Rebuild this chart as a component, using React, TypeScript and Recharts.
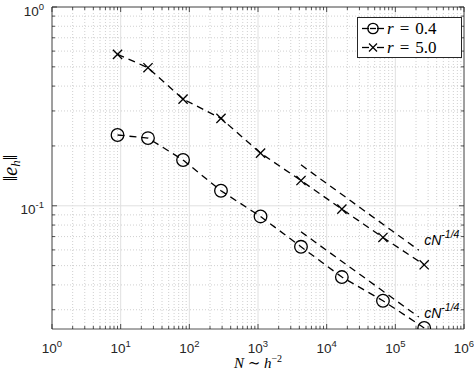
import React from 'react';
import { ComposedChart, Line, XAxis, YAxis, CartesianGrid, Legend, ReferenceDot } from 'recharts';

// ---- data ----
const N = [9, 25, 81, 289, 1089, 4225, 16641, 66049, 263169];
const errR04 = [0.227, 0.219, 0.17, 0.119, 0.0884, 0.0622, 0.0438, 0.0333, 0.0243];
const errR50 = [0.578, 0.495, 0.344, 0.2753, 0.184, 0.134, 0.0962, 0.0693, 0.0505];
const refN = [4225, 220000];
const refUpper = [0.1607, 0.0598];
const refLower = [0.074, 0.02756];
const labelN = 263169;
const labelUpperY = 0.0637;
const labelLowerY = 0.02736;
const seriesNames = ['r = 0.4', 'r = 5.0'];

const xMajor = [1, 10, 100, 1000, 10000, 100000, 1000000];
const yMajor = [0.1, 1];
const minorMult = [2, 3, 4, 5, 6, 7, 8, 9];
const xMinor = [1, 10, 100, 1000, 10000, 100000].flatMap((d) => minorMult.map((m) => m * d));
const yMinor = [3, 4, 5, 6, 7, 8, 9].map((m) => m / 100).concat(minorMult.map((m) => m / 10));
const xTicks = [...xMajor, ...xMinor].sort((a, b) => a - b);
const yTicks = [...yMajor, ...yMinor].sort((a, b) => a - b);

const dataR04 = N.map((n, i) => ({ x: n, y: errR04[i] }));
const dataR50 = N.map((n, i) => ({ x: n, y: errR50[i] }));
const dataRefU = refN.map((n, i) => ({ x: n, y: refUpper[i] }));
const dataRefL = refN.map((n, i) => ({ x: n, y: refLower[i] }));

const AX = '#262626';
const TICK_FONT = '"Liberation Sans", Arial, sans-serif';
const SERIF = '"Liberation Serif", "DejaVu Serif", serif';
const DASH = '7 5';
const LW = 1.3;

const isMajor = (v: number) => Math.abs(Math.log10(v) - Math.round(Math.log10(v))) < 1e-6;
const expOf = (v: number) => Math.round(Math.log10(v));

const BottomTick = (props: any) => {
  const { x, y, payload } = props;
  const v = payload.value;
  const major = isMajor(v);
  return (
    <g>
      <line x1={x} y1={y} x2={x} y2={y - (major ? 5 : 3)} stroke={AX} strokeWidth={0.8} />
      {major && (
        <text x={x} y={y + 24} textAnchor="middle" fontFamily={TICK_FONT} fontSize={13.5} fill={AX}>
          10<tspan dy={-6} fontSize={9.5}>{expOf(v)}</tspan>
        </text>
      )}
    </g>
  );
};

const TopTick = (props: any) => {
  const { x, y, payload } = props;
  const major = isMajor(payload.value);
  return <line x1={x} y1={y} x2={x} y2={y + (major ? 5 : 3)} stroke={AX} strokeWidth={0.8} />;
};

const LeftTick = (props: any) => {
  const { x, y, payload } = props;
  const v = payload.value;
  const major = isMajor(v);
  return (
    <g>
      <line x1={x} y1={y} x2={x + (major ? 5 : 3)} y2={y} stroke={AX} strokeWidth={0.8} />
      {major && (
        <text x={x - 8} y={y + 8.5} textAnchor="end" fontFamily={TICK_FONT} fontSize={13.5} fill={AX}>
          10<tspan dy={-6} fontSize={9.5}>{expOf(v)}</tspan>
        </text>
      )}
    </g>
  );
};

const RightTick = (props: any) => {
  const { x, y, payload } = props;
  const major = isMajor(payload.value);
  return <line x1={x} y1={y} x2={x - (major ? 5 : 3)} y2={y} stroke={AX} strokeWidth={0.8} />;
};

const CircleDot = (props: any) => {
  const { cx, cy, index } = props;
  if (cx == null || cy == null) return <g key={index} />;
  return <circle key={index} cx={cx} cy={cy} r={6.3} fill="none" stroke="#000" strokeWidth={LW} />;
};

const CrossDot = (props: any) => {
  const { cx, cy, index } = props;
  if (cx == null || cy == null) return <g key={index} />;
  const s = 4.6;
  return (
    <g key={index}>
      <line x1={cx - s} y1={cy - s} x2={cx + s} y2={cy + s} stroke="#000" strokeWidth={LW} />
      <line x1={cx - s} y1={cy + s} x2={cx + s} y2={cy - s} stroke="#000" strokeWidth={LW} />
    </g>
  );
};

const XLabel = (props: any) => {
  const vb = props.viewBox || { x: 52, y: 329, width: 412, height: 42 };
  const cx = vb.x + vb.width / 2;
  return (
    <text x={cx} y={vb.y + 39} textAnchor="middle" fontFamily={SERIF} fontSize={15} fill="#000">
      <tspan fontStyle="italic">N</tspan>
      <tspan> ∼ </tspan>
      <tspan fontStyle="italic">h</tspan>
      <tspan dy={-6} fontSize={10}>−2</tspan>
    </text>
  );
};

const YLabel = (props: any) => {
  const vb = props.viewBox || { x: 0, y: 7, width: 52, height: 322 };
  const cx = vb.x + 17;
  const cy = vb.y + vb.height / 2;
  return (
    <text x={cx} y={cy} transform={`rotate(-90 ${cx} ${cy})`} textAnchor="middle" fontFamily={SERIF} fontSize={20} fill="#000">
      <tspan>‖</tspan>
      <tspan fontStyle="italic">e</tspan>
      <tspan dy={3} fontSize={13} fontStyle="italic">h</tspan>
      <tspan dy={-3}>‖</tspan>
    </text>
  );
};

const RateLabel = (props: any) => {
  const vb = props.viewBox || {};
  const x = vb.x ?? 0;
  const y = vb.y ?? 0;
  return (
    <text x={x} y={y} fontFamily={TICK_FONT} fontSize={14} fontStyle="italic" fill="#000">
      cN<tspan dy={-7} fontSize={10.5}>-1/4</tspan>
    </text>
  );
};

const LegendSample = ({ kind }: { kind: 'circle' | 'cross' }) => (
  <svg width={26} height={19} style={{ display: 'block', flex: 'none' }}>
    <line x1={1} y1={9.5} x2={8} y2={9.5} stroke="#000" strokeWidth={LW} />
    <line x1={16} y1={9.5} x2={23} y2={9.5} stroke="#000" strokeWidth={LW} />
    {kind === 'circle' ? (
      <g>
        <line x1={9} y1={9.5} x2={15} y2={9.5} stroke="#000" strokeWidth={LW} />
        <circle cx={12} cy={9.5} r={5.2} fill="none" stroke="#000" strokeWidth={LW} />
      </g>
    ) : (
      <g>
        <line x1={8} y1={5.5} x2={16} y2={13.5} stroke="#000" strokeWidth={LW} />
        <line x1={8} y1={13.5} x2={16} y2={5.5} stroke="#000" strokeWidth={LW} />
      </g>
    )}
  </svg>
);

const LegendBox = () => (
  <div
    style={{
      boxSizing: 'border-box',
      width: 105,
      height: 41,
      border: `1px solid ${AX}`,
      background: '#fff',
      padding: '1px 0 0 3px',
      fontFamily: SERIF,
      fontSize: 17,
      color: '#000',
    }}
  >
    {seriesNames.map((name, i) => {
      const [lhs, rhs] = name.split(' = ');
      return (
        <div key={name} style={{ display: 'flex', alignItems: 'center', height: 19, whiteSpace: 'nowrap' }}>
          <LegendSample kind={i === 0 ? 'circle' : 'cross'} />
          <span style={{ fontStyle: 'italic' }}>{lhs}</span>
          <span style={{ margin: '0 6px' }}>=</span>
          <span>{rhs}</span>
        </div>
      );
    })}
  </div>
);

export default function App() {
  return (
    <div style={{ position: 'absolute', left: 0, top: 0, background: '#fff' }}>
      <ComposedChart width={474} height={371} margin={{ top: 0, right: 0, bottom: 0, left: 0 }}>
        <CartesianGrid
          verticalValues={xMinor}
          horizontalValues={yMinor}
          stroke="#c4c4c4"
          strokeDasharray="1 2"
          strokeWidth={0.8}
        />
        <CartesianGrid verticalValues={xMajor} horizontalValues={yMajor} stroke="#e0e0e0" strokeWidth={1} />
        <XAxis
          xAxisId={0}
          dataKey="x"
          type="number"
          scale="log"
          domain={[1, 1000000]}
          ticks={xTicks}
          interval={0}
          allowDataOverflow
          height={42}
          tickSize={0}
          tickMargin={0}
          tickLine={false}
          axisLine={{ stroke: AX, strokeWidth: 0.8 }}
          tick={BottomTick}
          label={XLabel}
        />
        <XAxis
          xAxisId="top"
          orientation="top"
          dataKey="x"
          type="number"
          scale="log"
          domain={[1, 1000000]}
          ticks={xTicks}
          interval={0}
          allowDataOverflow
          height={7}
          tickSize={0}
          tickMargin={0}
          tickLine={false}
          axisLine={{ stroke: AX, strokeWidth: 0.8 }}
          tick={TopTick}
        />
        <YAxis
          yAxisId={0}
          type="number"
          scale="log"
          domain={[0.024, 1]}
          ticks={yTicks}
          interval={0}
          allowDataOverflow
          width={52}
          tickSize={0}
          tickMargin={0}
          tickLine={false}
          axisLine={{ stroke: AX, strokeWidth: 0.8 }}
          tick={LeftTick}
          label={YLabel}
        />
        <YAxis
          yAxisId="right"
          orientation="right"
          type="number"
          scale="log"
          domain={[0.024, 1]}
          ticks={yTicks}
          interval={0}
          allowDataOverflow
          width={10}
          tickSize={0}
          tickMargin={0}
          tickLine={false}
          axisLine={{ stroke: AX, strokeWidth: 0.8 }}
          tick={RightTick}
        />
        <Line
          data={dataRefU}
          dataKey="y"
          xAxisId={0}
          yAxisId={0}
          stroke="#000"
          strokeWidth={LW}
          strokeDasharray={DASH}
          dot={false}
          isAnimationActive={false}
          legendType="none"
        />
        <Line
          data={dataRefL}
          dataKey="y"
          xAxisId={0}
          yAxisId={0}
          stroke="#000"
          strokeWidth={LW}
          strokeDasharray={DASH}
          dot={false}
          isAnimationActive={false}
          legendType="none"
        />
        <Line
          data={dataR04}
          dataKey="y"
          name={seriesNames[0]}
          xAxisId={0}
          yAxisId={0}
          stroke="#000"
          strokeWidth={LW}
          strokeDasharray={DASH}
          dot={CircleDot}
          isAnimationActive={false}
        />
        <Line
          data={dataR50}
          dataKey="y"
          name={seriesNames[1]}
          xAxisId={0}
          yAxisId={0}
          stroke="#000"
          strokeWidth={LW}
          strokeDasharray={DASH}
          dot={CrossDot}
          isAnimationActive={false}
        />
        <ReferenceDot x={labelN} y={labelUpperY} xAxisId={0} yAxisId={0} r={0} fill="none" stroke="none" label={RateLabel} />
        <ReferenceDot x={labelN} y={labelLowerY} xAxisId={0} yAxisId={0} r={0} fill="none" stroke="none" label={RateLabel} />
        <Legend
          layout="vertical"
          align="center"
          verticalAlign="middle"
          wrapperStyle={{ left: 357, top: 17, width: 105, height: 41 }}
          content={() => <LegendBox />}
        />
      </ComposedChart>
    </div>
  );
}
